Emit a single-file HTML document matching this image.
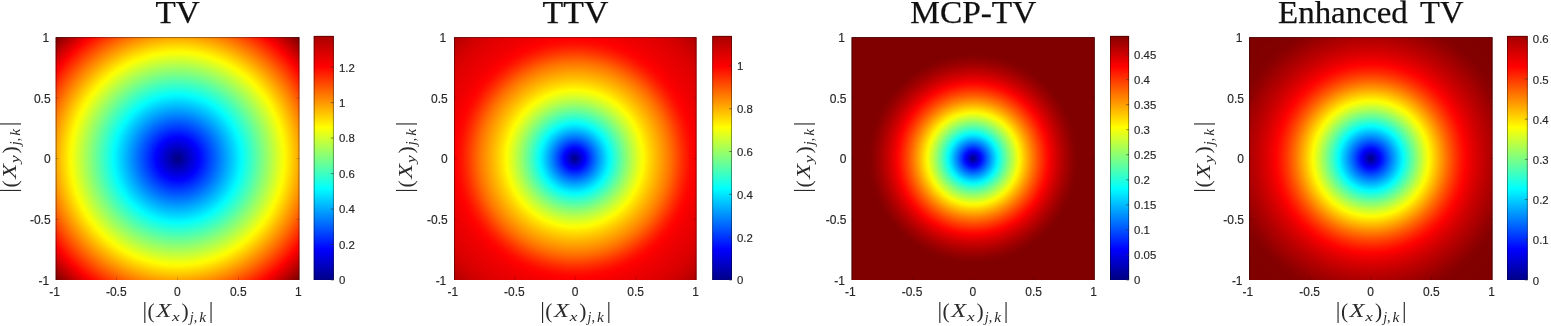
<!DOCTYPE html>
<html lang="en">
<head>
<meta charset="utf-8">
<title>TV regularizers</title>
<style>
html,body{margin:0;padding:0;background:#fff;}
body{width:1551px;height:326px;overflow:hidden;}
svg{display:block;}
.tk{font-family:"Liberation Sans",Arial,Helvetica,sans-serif;font-size:12px;fill:#262626;stroke:#262626;stroke-width:0.15px;}
.ti{font-family:"Liberation Serif","Times New Roman",serif;font-size:32.2px;fill:#111;stroke:#111;stroke-width:0.25px;}
.lb{font-family:"Liberation Serif","Times New Roman",serif;font-size:19.5px;fill:#2a2a2a;stroke:none;}
.it{font-style:italic;}
</style>
</head>
<body>
<svg width="1551" height="326" viewBox="0 0 1551 326">
<rect x="0" y="0" width="1551" height="326" fill="#ffffff"/>
<defs>
<linearGradient id="cb0" x1="0" y1="1" x2="0" y2="0"><stop offset="0" stop-color="#000087"/><stop offset="0.0156" stop-color="#000096"/><stop offset="0.0312" stop-color="#0000a5"/><stop offset="0.0469" stop-color="#0000b4"/><stop offset="0.0625" stop-color="#0000c3"/><stop offset="0.0781" stop-color="#0000d2"/><stop offset="0.0938" stop-color="#0000e1"/><stop offset="0.1094" stop-color="#0000f0"/><stop offset="0.125" stop-color="#0000ff"/><stop offset="0.1406" stop-color="#0010ff"/><stop offset="0.1562" stop-color="#0020ff"/><stop offset="0.1719" stop-color="#0030ff"/><stop offset="0.1875" stop-color="#0040ff"/><stop offset="0.2031" stop-color="#0050ff"/><stop offset="0.2188" stop-color="#0060ff"/><stop offset="0.2344" stop-color="#0070ff"/><stop offset="0.25" stop-color="#0080ff"/><stop offset="0.2656" stop-color="#008fff"/><stop offset="0.2812" stop-color="#009fff"/><stop offset="0.2969" stop-color="#00afff"/><stop offset="0.3125" stop-color="#00bfff"/><stop offset="0.3281" stop-color="#00cfff"/><stop offset="0.3438" stop-color="#00dfff"/><stop offset="0.3594" stop-color="#00efff"/><stop offset="0.375" stop-color="#00ffff"/><stop offset="0.3906" stop-color="#10ffef"/><stop offset="0.4062" stop-color="#20ffdf"/><stop offset="0.4219" stop-color="#30ffcf"/><stop offset="0.4375" stop-color="#40ffbf"/><stop offset="0.4531" stop-color="#50ffaf"/><stop offset="0.4688" stop-color="#60ff9f"/><stop offset="0.4844" stop-color="#70ff8f"/><stop offset="0.5" stop-color="#80ff80"/><stop offset="0.5156" stop-color="#8fff70"/><stop offset="0.5312" stop-color="#9fff60"/><stop offset="0.5469" stop-color="#afff50"/><stop offset="0.5625" stop-color="#bfff40"/><stop offset="0.5781" stop-color="#cfff30"/><stop offset="0.5938" stop-color="#dfff20"/><stop offset="0.6094" stop-color="#efff10"/><stop offset="0.625" stop-color="#ffff00"/><stop offset="0.6406" stop-color="#ffef00"/><stop offset="0.6562" stop-color="#ffdf00"/><stop offset="0.6719" stop-color="#ffcf00"/><stop offset="0.6875" stop-color="#ffbf00"/><stop offset="0.7031" stop-color="#ffaf00"/><stop offset="0.7188" stop-color="#ff9f00"/><stop offset="0.7344" stop-color="#ff8f00"/><stop offset="0.75" stop-color="#ff8000"/><stop offset="0.7656" stop-color="#ff7000"/><stop offset="0.7812" stop-color="#ff6000"/><stop offset="0.7969" stop-color="#ff5000"/><stop offset="0.8125" stop-color="#ff4000"/><stop offset="0.8281" stop-color="#ff3000"/><stop offset="0.8438" stop-color="#ff2000"/><stop offset="0.8594" stop-color="#ff1000"/><stop offset="0.875" stop-color="#ff0000"/><stop offset="0.8906" stop-color="#f40000"/><stop offset="0.9062" stop-color="#e90000"/><stop offset="0.9219" stop-color="#de0000"/><stop offset="0.9375" stop-color="#d40000"/><stop offset="0.9531" stop-color="#c90000"/><stop offset="0.9688" stop-color="#be0000"/><stop offset="0.9844" stop-color="#b30000"/><stop offset="1" stop-color="#a80000"/></linearGradient>
<linearGradient id="cb1" x1="0" y1="1" x2="0" y2="0"><stop offset="0" stop-color="#000087"/><stop offset="0.0156" stop-color="#000096"/><stop offset="0.0312" stop-color="#0000a5"/><stop offset="0.0469" stop-color="#0000b4"/><stop offset="0.0625" stop-color="#0000c3"/><stop offset="0.0781" stop-color="#0000d2"/><stop offset="0.0938" stop-color="#0000e1"/><stop offset="0.1094" stop-color="#0000f0"/><stop offset="0.125" stop-color="#0000ff"/><stop offset="0.1406" stop-color="#0010ff"/><stop offset="0.1562" stop-color="#0020ff"/><stop offset="0.1719" stop-color="#0030ff"/><stop offset="0.1875" stop-color="#0040ff"/><stop offset="0.2031" stop-color="#0050ff"/><stop offset="0.2188" stop-color="#0060ff"/><stop offset="0.2344" stop-color="#0070ff"/><stop offset="0.25" stop-color="#0080ff"/><stop offset="0.2656" stop-color="#008fff"/><stop offset="0.2812" stop-color="#009fff"/><stop offset="0.2969" stop-color="#00afff"/><stop offset="0.3125" stop-color="#00bfff"/><stop offset="0.3281" stop-color="#00cfff"/><stop offset="0.3438" stop-color="#00dfff"/><stop offset="0.3594" stop-color="#00efff"/><stop offset="0.375" stop-color="#00ffff"/><stop offset="0.3906" stop-color="#10ffef"/><stop offset="0.4062" stop-color="#20ffdf"/><stop offset="0.4219" stop-color="#30ffcf"/><stop offset="0.4375" stop-color="#40ffbf"/><stop offset="0.4531" stop-color="#50ffaf"/><stop offset="0.4688" stop-color="#60ff9f"/><stop offset="0.4844" stop-color="#70ff8f"/><stop offset="0.5" stop-color="#80ff80"/><stop offset="0.5156" stop-color="#8fff70"/><stop offset="0.5312" stop-color="#9fff60"/><stop offset="0.5469" stop-color="#afff50"/><stop offset="0.5625" stop-color="#bfff40"/><stop offset="0.5781" stop-color="#cfff30"/><stop offset="0.5938" stop-color="#dfff20"/><stop offset="0.6094" stop-color="#efff10"/><stop offset="0.625" stop-color="#ffff00"/><stop offset="0.6406" stop-color="#ffef00"/><stop offset="0.6562" stop-color="#ffdf00"/><stop offset="0.6719" stop-color="#ffcf00"/><stop offset="0.6875" stop-color="#ffbf00"/><stop offset="0.7031" stop-color="#ffaf00"/><stop offset="0.7188" stop-color="#ff9f00"/><stop offset="0.7344" stop-color="#ff8f00"/><stop offset="0.75" stop-color="#ff8000"/><stop offset="0.7656" stop-color="#ff7000"/><stop offset="0.7812" stop-color="#ff6000"/><stop offset="0.7969" stop-color="#ff5000"/><stop offset="0.8125" stop-color="#ff4000"/><stop offset="0.8281" stop-color="#ff3000"/><stop offset="0.8438" stop-color="#ff2000"/><stop offset="0.8594" stop-color="#ff1000"/><stop offset="0.875" stop-color="#ff0000"/><stop offset="0.8906" stop-color="#f40000"/><stop offset="0.9062" stop-color="#e90000"/><stop offset="0.9219" stop-color="#de0000"/><stop offset="0.9375" stop-color="#d40000"/><stop offset="0.9531" stop-color="#c90000"/><stop offset="0.9688" stop-color="#be0000"/><stop offset="0.9844" stop-color="#b30000"/><stop offset="1" stop-color="#a80000"/></linearGradient>
<linearGradient id="cb2" x1="0" y1="1" x2="0" y2="0"><stop offset="0" stop-color="#000080"/><stop offset="0.0156" stop-color="#00008f"/><stop offset="0.0312" stop-color="#00009f"/><stop offset="0.0469" stop-color="#0000af"/><stop offset="0.0625" stop-color="#0000bf"/><stop offset="0.0781" stop-color="#0000cf"/><stop offset="0.0938" stop-color="#0000df"/><stop offset="0.1094" stop-color="#0000ef"/><stop offset="0.125" stop-color="#0000ff"/><stop offset="0.1406" stop-color="#0010ff"/><stop offset="0.1562" stop-color="#0020ff"/><stop offset="0.1719" stop-color="#0030ff"/><stop offset="0.1875" stop-color="#0040ff"/><stop offset="0.2031" stop-color="#0050ff"/><stop offset="0.2188" stop-color="#0060ff"/><stop offset="0.2344" stop-color="#0070ff"/><stop offset="0.25" stop-color="#0080ff"/><stop offset="0.2656" stop-color="#008fff"/><stop offset="0.2812" stop-color="#009fff"/><stop offset="0.2969" stop-color="#00afff"/><stop offset="0.3125" stop-color="#00bfff"/><stop offset="0.3281" stop-color="#00cfff"/><stop offset="0.3438" stop-color="#00dfff"/><stop offset="0.3594" stop-color="#00efff"/><stop offset="0.375" stop-color="#00ffff"/><stop offset="0.3906" stop-color="#10ffef"/><stop offset="0.4062" stop-color="#20ffdf"/><stop offset="0.4219" stop-color="#30ffcf"/><stop offset="0.4375" stop-color="#40ffbf"/><stop offset="0.4531" stop-color="#50ffaf"/><stop offset="0.4688" stop-color="#60ff9f"/><stop offset="0.4844" stop-color="#70ff8f"/><stop offset="0.5" stop-color="#80ff80"/><stop offset="0.5156" stop-color="#8fff70"/><stop offset="0.5312" stop-color="#9fff60"/><stop offset="0.5469" stop-color="#afff50"/><stop offset="0.5625" stop-color="#bfff40"/><stop offset="0.5781" stop-color="#cfff30"/><stop offset="0.5938" stop-color="#dfff20"/><stop offset="0.6094" stop-color="#efff10"/><stop offset="0.625" stop-color="#ffff00"/><stop offset="0.6406" stop-color="#ffef00"/><stop offset="0.6562" stop-color="#ffdf00"/><stop offset="0.6719" stop-color="#ffcf00"/><stop offset="0.6875" stop-color="#ffbf00"/><stop offset="0.7031" stop-color="#ffaf00"/><stop offset="0.7188" stop-color="#ff9f00"/><stop offset="0.7344" stop-color="#ff8f00"/><stop offset="0.75" stop-color="#ff8000"/><stop offset="0.7656" stop-color="#ff7000"/><stop offset="0.7812" stop-color="#ff6000"/><stop offset="0.7969" stop-color="#ff5000"/><stop offset="0.8125" stop-color="#ff4000"/><stop offset="0.8281" stop-color="#ff3000"/><stop offset="0.8438" stop-color="#ff2000"/><stop offset="0.8594" stop-color="#ff1000"/><stop offset="0.875" stop-color="#ff0000"/><stop offset="0.8906" stop-color="#f00000"/><stop offset="0.9062" stop-color="#e00000"/><stop offset="0.9219" stop-color="#d10000"/><stop offset="0.9375" stop-color="#c20000"/><stop offset="0.9531" stop-color="#b20000"/><stop offset="0.9688" stop-color="#a30000"/><stop offset="0.9844" stop-color="#940000"/><stop offset="1" stop-color="#850000"/></linearGradient>
<linearGradient id="cb3" x1="0" y1="1" x2="0" y2="0"><stop offset="0" stop-color="#000087"/><stop offset="0.0156" stop-color="#000096"/><stop offset="0.0312" stop-color="#0000a5"/><stop offset="0.0469" stop-color="#0000b4"/><stop offset="0.0625" stop-color="#0000c3"/><stop offset="0.0781" stop-color="#0000d2"/><stop offset="0.0938" stop-color="#0000e1"/><stop offset="0.1094" stop-color="#0000f0"/><stop offset="0.125" stop-color="#0000ff"/><stop offset="0.1406" stop-color="#0010ff"/><stop offset="0.1562" stop-color="#0020ff"/><stop offset="0.1719" stop-color="#0030ff"/><stop offset="0.1875" stop-color="#0040ff"/><stop offset="0.2031" stop-color="#0050ff"/><stop offset="0.2188" stop-color="#0060ff"/><stop offset="0.2344" stop-color="#0070ff"/><stop offset="0.25" stop-color="#0080ff"/><stop offset="0.2656" stop-color="#008fff"/><stop offset="0.2812" stop-color="#009fff"/><stop offset="0.2969" stop-color="#00afff"/><stop offset="0.3125" stop-color="#00bfff"/><stop offset="0.3281" stop-color="#00cfff"/><stop offset="0.3438" stop-color="#00dfff"/><stop offset="0.3594" stop-color="#00efff"/><stop offset="0.375" stop-color="#00ffff"/><stop offset="0.3906" stop-color="#10ffef"/><stop offset="0.4062" stop-color="#20ffdf"/><stop offset="0.4219" stop-color="#30ffcf"/><stop offset="0.4375" stop-color="#40ffbf"/><stop offset="0.4531" stop-color="#50ffaf"/><stop offset="0.4688" stop-color="#60ff9f"/><stop offset="0.4844" stop-color="#70ff8f"/><stop offset="0.5" stop-color="#80ff80"/><stop offset="0.5156" stop-color="#8fff70"/><stop offset="0.5312" stop-color="#9fff60"/><stop offset="0.5469" stop-color="#afff50"/><stop offset="0.5625" stop-color="#bfff40"/><stop offset="0.5781" stop-color="#cfff30"/><stop offset="0.5938" stop-color="#dfff20"/><stop offset="0.6094" stop-color="#efff10"/><stop offset="0.625" stop-color="#ffff00"/><stop offset="0.6406" stop-color="#ffef00"/><stop offset="0.6562" stop-color="#ffdf00"/><stop offset="0.6719" stop-color="#ffcf00"/><stop offset="0.6875" stop-color="#ffbf00"/><stop offset="0.7031" stop-color="#ffaf00"/><stop offset="0.7188" stop-color="#ff9f00"/><stop offset="0.7344" stop-color="#ff8f00"/><stop offset="0.75" stop-color="#ff8000"/><stop offset="0.7656" stop-color="#ff7000"/><stop offset="0.7812" stop-color="#ff6000"/><stop offset="0.7969" stop-color="#ff5000"/><stop offset="0.8125" stop-color="#ff4000"/><stop offset="0.8281" stop-color="#ff3000"/><stop offset="0.8438" stop-color="#ff2000"/><stop offset="0.8594" stop-color="#ff1000"/><stop offset="0.875" stop-color="#ff0000"/><stop offset="0.8906" stop-color="#f40000"/><stop offset="0.9062" stop-color="#e80000"/><stop offset="0.9219" stop-color="#dd0000"/><stop offset="0.9375" stop-color="#d10000"/><stop offset="0.9531" stop-color="#c60000"/><stop offset="0.9688" stop-color="#ba0000"/><stop offset="0.9844" stop-color="#af0000"/><stop offset="1" stop-color="#a30000"/></linearGradient>
<radialGradient id="g0" gradientUnits="userSpaceOnUse" cx="177.55" cy="158.55" r="172.46" gradientTransform="translate(0 158.55) scale(1 0.99590) translate(0 -158.55)"><stop offset="0" stop-color="#000080"/><stop offset="0.0125" stop-color="#00008c"/><stop offset="0.025" stop-color="#000099"/><stop offset="0.0375" stop-color="#0000a6"/><stop offset="0.05" stop-color="#0000b3"/><stop offset="0.0625" stop-color="#0000c0"/><stop offset="0.075" stop-color="#0000cd"/><stop offset="0.0875" stop-color="#0000da"/><stop offset="0.1" stop-color="#0000e7"/><stop offset="0.1125" stop-color="#0000f3"/><stop offset="0.125" stop-color="#0001ff"/><stop offset="0.1375" stop-color="#000eff"/><stop offset="0.15" stop-color="#001bff"/><stop offset="0.1625" stop-color="#0028ff"/><stop offset="0.175" stop-color="#0035ff"/><stop offset="0.1875" stop-color="#0042ff"/><stop offset="0.2" stop-color="#004fff"/><stop offset="0.2125" stop-color="#005bff"/><stop offset="0.225" stop-color="#0068ff"/><stop offset="0.2375" stop-color="#0075ff"/><stop offset="0.25" stop-color="#0082ff"/><stop offset="0.2625" stop-color="#008fff"/><stop offset="0.275" stop-color="#009cff"/><stop offset="0.2875" stop-color="#00a9ff"/><stop offset="0.3" stop-color="#00b6ff"/><stop offset="0.3125" stop-color="#00c2ff"/><stop offset="0.325" stop-color="#00cfff"/><stop offset="0.3375" stop-color="#00dcff"/><stop offset="0.35" stop-color="#00e9ff"/><stop offset="0.3625" stop-color="#00f6ff"/><stop offset="0.375" stop-color="#04fffb"/><stop offset="0.3875" stop-color="#11ffee"/><stop offset="0.4" stop-color="#1effe1"/><stop offset="0.4125" stop-color="#2bffd4"/><stop offset="0.425" stop-color="#37ffc8"/><stop offset="0.4375" stop-color="#44ffbb"/><stop offset="0.45" stop-color="#51ffae"/><stop offset="0.4625" stop-color="#5effa1"/><stop offset="0.475" stop-color="#6bff94"/><stop offset="0.4875" stop-color="#78ff87"/><stop offset="0.5" stop-color="#85ff7a"/><stop offset="0.5125" stop-color="#92ff6d"/><stop offset="0.525" stop-color="#9eff61"/><stop offset="0.5375" stop-color="#abff54"/><stop offset="0.55" stop-color="#b8ff47"/><stop offset="0.5625" stop-color="#c5ff3a"/><stop offset="0.575" stop-color="#d2ff2d"/><stop offset="0.5875" stop-color="#dfff20"/><stop offset="0.6" stop-color="#ecff13"/><stop offset="0.6125" stop-color="#f9ff06"/><stop offset="0.625" stop-color="#fff900"/><stop offset="0.6375" stop-color="#ffec00"/><stop offset="0.65" stop-color="#ffdf00"/><stop offset="0.6625" stop-color="#ffd200"/><stop offset="0.675" stop-color="#ffc500"/><stop offset="0.6875" stop-color="#ffb800"/><stop offset="0.7" stop-color="#ffab00"/><stop offset="0.7125" stop-color="#ff9e00"/><stop offset="0.725" stop-color="#ff9100"/><stop offset="0.7375" stop-color="#ff8500"/><stop offset="0.75" stop-color="#ff7800"/><stop offset="0.7625" stop-color="#ff6b00"/><stop offset="0.775" stop-color="#ff5e00"/><stop offset="0.7875" stop-color="#ff5100"/><stop offset="0.8" stop-color="#ff4400"/><stop offset="0.8125" stop-color="#ff3700"/><stop offset="0.825" stop-color="#ff2a00"/><stop offset="0.8375" stop-color="#ff1e00"/><stop offset="0.85" stop-color="#ff1100"/><stop offset="0.8625" stop-color="#ff0400"/><stop offset="0.875" stop-color="#f60000"/><stop offset="0.8875" stop-color="#e90000"/><stop offset="0.9" stop-color="#dc0000"/><stop offset="0.9125" stop-color="#cf0000"/><stop offset="0.925" stop-color="#c20000"/><stop offset="0.9375" stop-color="#b60000"/><stop offset="0.95" stop-color="#a90000"/><stop offset="0.9625" stop-color="#9c0000"/><stop offset="0.975" stop-color="#8f0000"/><stop offset="0.9875" stop-color="#820000"/><stop offset="1" stop-color="#800000"/></radialGradient>
<radialGradient id="g1" gradientUnits="userSpaceOnUse" cx="574.7" cy="158.55" r="171.54" gradientTransform="translate(0 158.55) scale(1 1.00124) translate(0 -158.55)"><stop offset="0" stop-color="#000080"/><stop offset="0.0125" stop-color="#00009b"/><stop offset="0.025" stop-color="#0000b6"/><stop offset="0.0375" stop-color="#0000d0"/><stop offset="0.05" stop-color="#0000ea"/><stop offset="0.0625" stop-color="#0003ff"/><stop offset="0.075" stop-color="#001bff"/><stop offset="0.0875" stop-color="#0033ff"/><stop offset="0.1" stop-color="#004bff"/><stop offset="0.1125" stop-color="#0062ff"/><stop offset="0.125" stop-color="#0079ff"/><stop offset="0.1375" stop-color="#008fff"/><stop offset="0.15" stop-color="#00a5ff"/><stop offset="0.1625" stop-color="#00baff"/><stop offset="0.175" stop-color="#00cfff"/><stop offset="0.1875" stop-color="#00e4ff"/><stop offset="0.2" stop-color="#00f7ff"/><stop offset="0.2125" stop-color="#0bfff4"/><stop offset="0.225" stop-color="#1effe1"/><stop offset="0.2375" stop-color="#31ffce"/><stop offset="0.25" stop-color="#43ffbc"/><stop offset="0.2625" stop-color="#55ffaa"/><stop offset="0.275" stop-color="#67ff98"/><stop offset="0.2875" stop-color="#78ff87"/><stop offset="0.3" stop-color="#89ff76"/><stop offset="0.3125" stop-color="#9aff65"/><stop offset="0.325" stop-color="#aaff55"/><stop offset="0.3375" stop-color="#baff45"/><stop offset="0.35" stop-color="#c9ff36"/><stop offset="0.3625" stop-color="#d8ff27"/><stop offset="0.375" stop-color="#e6ff19"/><stop offset="0.3875" stop-color="#f4ff0b"/><stop offset="0.4" stop-color="#fffd00"/><stop offset="0.4125" stop-color="#fff000"/><stop offset="0.425" stop-color="#ffe400"/><stop offset="0.4375" stop-color="#ffd800"/><stop offset="0.45" stop-color="#ffcd00"/><stop offset="0.4625" stop-color="#ffc200"/><stop offset="0.475" stop-color="#ffb800"/><stop offset="0.4875" stop-color="#ffad00"/><stop offset="0.5" stop-color="#ffa300"/><stop offset="0.5125" stop-color="#ff9900"/><stop offset="0.525" stop-color="#ff8e00"/><stop offset="0.5375" stop-color="#ff8400"/><stop offset="0.55" stop-color="#ff7900"/><stop offset="0.5625" stop-color="#ff6e00"/><stop offset="0.575" stop-color="#ff6200"/><stop offset="0.5875" stop-color="#ff5500"/><stop offset="0.6" stop-color="#ff4900"/><stop offset="0.6125" stop-color="#ff3d00"/><stop offset="0.625" stop-color="#ff3100"/><stop offset="0.6375" stop-color="#ff2600"/><stop offset="0.65" stop-color="#ff1c00"/><stop offset="0.6625" stop-color="#ff1200"/><stop offset="0.675" stop-color="#ff0a00"/><stop offset="0.6875" stop-color="#ff0400"/><stop offset="0.7" stop-color="#fe0000"/><stop offset="0.7125" stop-color="#fa0000"/><stop offset="0.725" stop-color="#f60000"/><stop offset="0.7375" stop-color="#f30000"/><stop offset="0.75" stop-color="#f00000"/><stop offset="0.7625" stop-color="#ee0000"/><stop offset="0.775" stop-color="#eb0000"/><stop offset="0.7875" stop-color="#e90000"/><stop offset="0.8" stop-color="#e70000"/><stop offset="0.8125" stop-color="#e50000"/><stop offset="0.825" stop-color="#e30000"/><stop offset="0.8375" stop-color="#e10000"/><stop offset="0.85" stop-color="#de0000"/><stop offset="0.8625" stop-color="#db0000"/><stop offset="0.875" stop-color="#d80000"/><stop offset="0.8875" stop-color="#d50000"/><stop offset="0.9" stop-color="#d20000"/><stop offset="0.9125" stop-color="#ce0000"/><stop offset="0.925" stop-color="#ca0000"/><stop offset="0.9375" stop-color="#c60000"/><stop offset="0.95" stop-color="#c10000"/><stop offset="0.9625" stop-color="#bd0000"/><stop offset="0.975" stop-color="#b80000"/><stop offset="0.9875" stop-color="#b40000"/><stop offset="1" stop-color="#af0000"/></radialGradient>
<radialGradient id="g2" gradientUnits="userSpaceOnUse" cx="973.15" cy="158.55" r="172.04" gradientTransform="translate(0 158.55) scale(1 0.99836) translate(0 -158.55)"><stop offset="0" stop-color="#000080"/><stop offset="0.0125" stop-color="#0000a4"/><stop offset="0.025" stop-color="#0000c8"/><stop offset="0.0375" stop-color="#0000eb"/><stop offset="0.05" stop-color="#000eff"/><stop offset="0.0625" stop-color="#0030ff"/><stop offset="0.075" stop-color="#0052ff"/><stop offset="0.0875" stop-color="#0072ff"/><stop offset="0.1" stop-color="#0092ff"/><stop offset="0.1125" stop-color="#00b1ff"/><stop offset="0.125" stop-color="#00d0ff"/><stop offset="0.1375" stop-color="#00eeff"/><stop offset="0.15" stop-color="#0cfff3"/><stop offset="0.1625" stop-color="#29ffd6"/><stop offset="0.175" stop-color="#45ffba"/><stop offset="0.1875" stop-color="#60ff9f"/><stop offset="0.2" stop-color="#7bff84"/><stop offset="0.2125" stop-color="#95ff6a"/><stop offset="0.225" stop-color="#aeff51"/><stop offset="0.2375" stop-color="#c7ff38"/><stop offset="0.25" stop-color="#dfff20"/><stop offset="0.2625" stop-color="#f7ff08"/><stop offset="0.275" stop-color="#fff000"/><stop offset="0.2875" stop-color="#ffda00"/><stop offset="0.3" stop-color="#ffc500"/><stop offset="0.3125" stop-color="#ffb000"/><stop offset="0.325" stop-color="#ff9c00"/><stop offset="0.3375" stop-color="#ff8800"/><stop offset="0.35" stop-color="#ff7500"/><stop offset="0.3625" stop-color="#ff6300"/><stop offset="0.375" stop-color="#ff5100"/><stop offset="0.3875" stop-color="#ff4000"/><stop offset="0.4" stop-color="#ff3000"/><stop offset="0.4125" stop-color="#ff2000"/><stop offset="0.425" stop-color="#ff1100"/><stop offset="0.4375" stop-color="#ff0300"/><stop offset="0.45" stop-color="#f40000"/><stop offset="0.4625" stop-color="#e70000"/><stop offset="0.475" stop-color="#db0000"/><stop offset="0.4875" stop-color="#cf0000"/><stop offset="0.5" stop-color="#c40000"/><stop offset="0.5125" stop-color="#ba0000"/><stop offset="0.525" stop-color="#b00000"/><stop offset="0.5375" stop-color="#a70000"/><stop offset="0.55" stop-color="#9e0000"/><stop offset="0.5625" stop-color="#960000"/><stop offset="0.575" stop-color="#8f0000"/><stop offset="0.5875" stop-color="#880000"/><stop offset="0.6" stop-color="#830000"/><stop offset="0.6125" stop-color="#800000"/><stop offset="0.625" stop-color="#800000"/><stop offset="0.6375" stop-color="#800000"/><stop offset="0.65" stop-color="#800000"/><stop offset="0.6625" stop-color="#800000"/><stop offset="0.675" stop-color="#800000"/><stop offset="0.6875" stop-color="#800000"/><stop offset="0.7" stop-color="#800000"/><stop offset="0.7125" stop-color="#800000"/><stop offset="0.725" stop-color="#800000"/><stop offset="0.7375" stop-color="#800000"/><stop offset="0.75" stop-color="#800000"/><stop offset="0.7625" stop-color="#800000"/><stop offset="0.775" stop-color="#800000"/><stop offset="0.7875" stop-color="#800000"/><stop offset="0.8" stop-color="#800000"/><stop offset="0.8125" stop-color="#800000"/><stop offset="0.825" stop-color="#800000"/><stop offset="0.8375" stop-color="#800000"/><stop offset="0.85" stop-color="#800000"/><stop offset="0.8625" stop-color="#800000"/><stop offset="0.875" stop-color="#800000"/><stop offset="0.8875" stop-color="#800000"/><stop offset="0.9" stop-color="#800000"/><stop offset="0.9125" stop-color="#800000"/><stop offset="0.925" stop-color="#800000"/><stop offset="0.9375" stop-color="#800000"/><stop offset="0.95" stop-color="#800000"/><stop offset="0.9625" stop-color="#800000"/><stop offset="0.975" stop-color="#800000"/><stop offset="0.9875" stop-color="#800000"/><stop offset="1" stop-color="#800000"/></radialGradient>
<radialGradient id="g3" gradientUnits="userSpaceOnUse" cx="1370.82" cy="158.55" r="172.22" gradientTransform="translate(0 158.55) scale(1 0.99733) translate(0 -158.55)"><stop offset="0" stop-color="#000080"/><stop offset="0.0125" stop-color="#00009d"/><stop offset="0.025" stop-color="#0000ba"/><stop offset="0.0375" stop-color="#0000d7"/><stop offset="0.05" stop-color="#0000f2"/><stop offset="0.0625" stop-color="#000eff"/><stop offset="0.075" stop-color="#0028ff"/><stop offset="0.0875" stop-color="#0041ff"/><stop offset="0.1" stop-color="#005aff"/><stop offset="0.1125" stop-color="#0072ff"/><stop offset="0.125" stop-color="#008aff"/><stop offset="0.1375" stop-color="#00a2ff"/><stop offset="0.15" stop-color="#00b9ff"/><stop offset="0.1625" stop-color="#00d0ff"/><stop offset="0.175" stop-color="#00e7ff"/><stop offset="0.1875" stop-color="#00feff"/><stop offset="0.2" stop-color="#16ffe9"/><stop offset="0.2125" stop-color="#2dffd2"/><stop offset="0.225" stop-color="#44ffbb"/><stop offset="0.2375" stop-color="#5bffa4"/><stop offset="0.25" stop-color="#71ff8e"/><stop offset="0.2625" stop-color="#88ff77"/><stop offset="0.275" stop-color="#9dff62"/><stop offset="0.2875" stop-color="#b3ff4c"/><stop offset="0.3" stop-color="#c8ff37"/><stop offset="0.3125" stop-color="#dcff23"/><stop offset="0.325" stop-color="#efff10"/><stop offset="0.3375" stop-color="#fffd00"/><stop offset="0.35" stop-color="#ffeb00"/><stop offset="0.3625" stop-color="#ffda00"/><stop offset="0.375" stop-color="#ffc800"/><stop offset="0.3875" stop-color="#ffb700"/><stop offset="0.4" stop-color="#ffa600"/><stop offset="0.4125" stop-color="#ff9500"/><stop offset="0.425" stop-color="#ff8500"/><stop offset="0.4375" stop-color="#ff7400"/><stop offset="0.45" stop-color="#ff6500"/><stop offset="0.4625" stop-color="#ff5600"/><stop offset="0.475" stop-color="#ff4800"/><stop offset="0.4875" stop-color="#ff3a00"/><stop offset="0.5" stop-color="#ff2d00"/><stop offset="0.5125" stop-color="#ff2100"/><stop offset="0.525" stop-color="#ff1500"/><stop offset="0.5375" stop-color="#ff0b00"/><stop offset="0.55" stop-color="#ff0100"/><stop offset="0.5625" stop-color="#f70000"/><stop offset="0.575" stop-color="#ef0000"/><stop offset="0.5875" stop-color="#e70000"/><stop offset="0.6" stop-color="#e00000"/><stop offset="0.6125" stop-color="#d90000"/><stop offset="0.625" stop-color="#d20000"/><stop offset="0.6375" stop-color="#cc0000"/><stop offset="0.65" stop-color="#c60000"/><stop offset="0.6625" stop-color="#c00000"/><stop offset="0.675" stop-color="#ba0000"/><stop offset="0.6875" stop-color="#b50000"/><stop offset="0.7" stop-color="#b00000"/><stop offset="0.7125" stop-color="#ab0000"/><stop offset="0.725" stop-color="#a60000"/><stop offset="0.7375" stop-color="#a10000"/><stop offset="0.75" stop-color="#9c0000"/><stop offset="0.7625" stop-color="#970000"/><stop offset="0.775" stop-color="#920000"/><stop offset="0.7875" stop-color="#8e0000"/><stop offset="0.8" stop-color="#8a0000"/><stop offset="0.8125" stop-color="#860000"/><stop offset="0.825" stop-color="#840000"/><stop offset="0.8375" stop-color="#820000"/><stop offset="0.85" stop-color="#820000"/><stop offset="0.8625" stop-color="#810000"/><stop offset="0.875" stop-color="#810000"/><stop offset="0.8875" stop-color="#810000"/><stop offset="0.9" stop-color="#800000"/><stop offset="0.9125" stop-color="#800000"/><stop offset="0.925" stop-color="#800000"/><stop offset="0.9375" stop-color="#800000"/><stop offset="0.95" stop-color="#800000"/><stop offset="0.9625" stop-color="#800000"/><stop offset="0.975" stop-color="#800000"/><stop offset="0.9875" stop-color="#800000"/><stop offset="1" stop-color="#800000"/></radialGradient>
</defs>
<g id="panel0">
<text class="ti" y="22.55"><tspan x="155.5" textLength="44.2" lengthAdjust="spacingAndGlyphs">TV</tspan></text>
<rect x="55.6" y="37.1" width="243.9" height="242.9" fill="url(#g0)"/>
<path d="M56.1 280V37.6H299V280" fill="none" stroke="#000" stroke-opacity="0.4" stroke-width="1"/>
<path d="M116.58 280v-3.2 M55.6 219.28h3.2 M299.5 219.28h-3.2 M177.55 280v-3.2 M55.6 158.55h3.2 M299.5 158.55h-3.2 M238.53 280v-3.2 M55.6 97.82h3.2 M299.5 97.82h-3.2" fill="none" stroke="#000" stroke-opacity="0.22" stroke-width="0.8"/>
<text class="tk" x="54.5" y="296.4" text-anchor="middle">-1</text>
<text class="tk" x="116.28" y="296.4" text-anchor="middle">-0.5</text>
<text class="tk" x="177.25" y="296.4" text-anchor="middle">0</text>
<text class="tk" x="238.22" y="296.4" text-anchor="middle">0.5</text>
<text class="tk" x="298.4" y="296.4" text-anchor="middle">1</text>
<text class="tk" x="49.1" y="284.7" text-anchor="end">-1</text>
<text class="tk" x="50.6" y="223.97" text-anchor="end">-0.5</text>
<text class="tk" x="50.6" y="163.25" text-anchor="end">0</text>
<text class="tk" x="50.6" y="102.52" text-anchor="end">0.5</text>
<text class="tk" x="49.1" y="41.8" text-anchor="end">1</text>
<g transform="translate(143.2 317.3)"><text class="lb" text-anchor="middle" style="font-size:23px" transform="translate(1.5 0.3)">|</text><text class="lb" text-anchor="middle" style="font-size:21.5px" transform="translate(8 0.6)">(</text><text class="lb it" text-anchor="middle" style="font-size:18px" transform="translate(20.6 0) scale(1.36 1)">X</text><text class="lb it" text-anchor="middle" style="font-size:11.5px" transform="translate(32.6 3.4) scale(1.5 1)">x</text><text class="lb" text-anchor="middle" style="font-size:21.5px" transform="translate(42 0.6)">)</text><text class="lb it" text-anchor="middle" style="font-size:14px" transform="translate(48.6 4.3)">j</text><text class="lb" text-anchor="middle" style="font-size:14px" transform="translate(52.3 4.3)">,</text><text class="lb it" text-anchor="middle" style="font-size:14px" transform="translate(59.5 4.3) scale(1.1 1)">k</text><text class="lb" text-anchor="middle" style="font-size:23px" transform="translate(67.9 0.3)">|</text></g>
<g transform="translate(16 191.9) rotate(-90)"><text class="lb" text-anchor="middle" style="font-size:23px" transform="translate(1.5 0.3)">|</text><text class="lb" text-anchor="middle" style="font-size:21.5px" transform="translate(8 0.6)">(</text><text class="lb it" text-anchor="middle" style="font-size:18px" transform="translate(20.6 0) scale(1.36 1)">X</text><text class="lb it" text-anchor="middle" style="font-size:11.5px" transform="translate(32.6 3.4) scale(1.5 1)">y</text><text class="lb" text-anchor="middle" style="font-size:21.5px" transform="translate(42 0.6)">)</text><text class="lb it" text-anchor="middle" style="font-size:14px" transform="translate(48.6 4.3)">j</text><text class="lb" text-anchor="middle" style="font-size:14px" transform="translate(52.3 4.3)">,</text><text class="lb it" text-anchor="middle" style="font-size:14px" transform="translate(59.5 4.3) scale(1.1 1)">k</text><text class="lb" text-anchor="middle" style="font-size:23px" transform="translate(67.9 0.3)">|</text></g>
<rect x="313.7" y="35.9" width="20.2" height="244.1" fill="url(#cb0)"/>
<path d="M314.2 280V36.4H333.4V280" fill="none" stroke="#000" stroke-opacity="0.4" stroke-width="1"/>
<line x1="330.9" y1="280" x2="333.9" y2="280" stroke="#333" stroke-opacity="0.7" stroke-width="0.8"/><text class="tk" style="font-size:11.4px" x="338.9" y="284.4">0</text>
<line x1="330.9" y1="244.52" x2="333.9" y2="244.52" stroke="#333" stroke-opacity="0.7" stroke-width="0.8"/><text class="tk" style="font-size:11.4px" x="338.9" y="248.92">0.2</text>
<line x1="330.9" y1="209.04" x2="333.9" y2="209.04" stroke="#333" stroke-opacity="0.7" stroke-width="0.8"/><text class="tk" style="font-size:11.4px" x="338.9" y="213.44">0.4</text>
<line x1="330.9" y1="173.56" x2="333.9" y2="173.56" stroke="#333" stroke-opacity="0.7" stroke-width="0.8"/><text class="tk" style="font-size:11.4px" x="338.9" y="177.96">0.6</text>
<line x1="330.9" y1="138.08" x2="333.9" y2="138.08" stroke="#333" stroke-opacity="0.7" stroke-width="0.8"/><text class="tk" style="font-size:11.4px" x="338.9" y="142.48">0.8</text>
<line x1="330.9" y1="102.6" x2="333.9" y2="102.6" stroke="#333" stroke-opacity="0.7" stroke-width="0.8"/><text class="tk" style="font-size:11.4px" x="338.9" y="107">1</text>
<line x1="330.9" y1="67.12" x2="333.9" y2="67.12" stroke="#333" stroke-opacity="0.7" stroke-width="0.8"/><text class="tk" style="font-size:11.4px" x="338.9" y="71.52">1.2</text>
</g>
<g id="panel1">
<text class="ti" y="22.55"><tspan x="542.6" textLength="65.7" lengthAdjust="spacingAndGlyphs">TTV</tspan></text>
<rect x="454" y="37.1" width="242.6" height="242.9" fill="url(#g1)"/>
<path d="M454.5 280V37.6H696.1V280" fill="none" stroke="#000" stroke-opacity="0.4" stroke-width="1"/>
<path d="M514.65 280v-3.2 M454 219.28h3.2 M696.6 219.28h-3.2 M575.3 280v-3.2 M454 158.55h3.2 M696.6 158.55h-3.2 M635.95 280v-3.2 M454 97.82h3.2 M696.6 97.82h-3.2" fill="none" stroke="#000" stroke-opacity="0.22" stroke-width="0.8"/>
<text class="tk" x="452.9" y="296.4" text-anchor="middle">-1</text>
<text class="tk" x="514.35" y="296.4" text-anchor="middle">-0.5</text>
<text class="tk" x="575" y="296.4" text-anchor="middle">0</text>
<text class="tk" x="635.65" y="296.4" text-anchor="middle">0.5</text>
<text class="tk" x="695.5" y="296.4" text-anchor="middle">1</text>
<text class="tk" x="446.3" y="284.7" text-anchor="end">-1</text>
<text class="tk" x="447.8" y="223.97" text-anchor="end">-0.5</text>
<text class="tk" x="447.8" y="163.25" text-anchor="end">0</text>
<text class="tk" x="447.8" y="102.52" text-anchor="end">0.5</text>
<text class="tk" x="446.3" y="41.8" text-anchor="end">1</text>
<g transform="translate(540.95 317.3)"><text class="lb" text-anchor="middle" style="font-size:23px" transform="translate(1.5 0.3)">|</text><text class="lb" text-anchor="middle" style="font-size:21.5px" transform="translate(8 0.6)">(</text><text class="lb it" text-anchor="middle" style="font-size:18px" transform="translate(20.6 0) scale(1.36 1)">X</text><text class="lb it" text-anchor="middle" style="font-size:11.5px" transform="translate(32.6 3.4) scale(1.5 1)">x</text><text class="lb" text-anchor="middle" style="font-size:21.5px" transform="translate(42 0.6)">)</text><text class="lb it" text-anchor="middle" style="font-size:14px" transform="translate(48.6 4.3)">j</text><text class="lb" text-anchor="middle" style="font-size:14px" transform="translate(52.3 4.3)">,</text><text class="lb it" text-anchor="middle" style="font-size:14px" transform="translate(59.5 4.3) scale(1.1 1)">k</text><text class="lb" text-anchor="middle" style="font-size:23px" transform="translate(67.9 0.3)">|</text></g>
<g transform="translate(411.9 191.9) rotate(-90)"><text class="lb" text-anchor="middle" style="font-size:23px" transform="translate(1.5 0.3)">|</text><text class="lb" text-anchor="middle" style="font-size:21.5px" transform="translate(8 0.6)">(</text><text class="lb it" text-anchor="middle" style="font-size:18px" transform="translate(20.6 0) scale(1.36 1)">X</text><text class="lb it" text-anchor="middle" style="font-size:11.5px" transform="translate(32.6 3.4) scale(1.5 1)">y</text><text class="lb" text-anchor="middle" style="font-size:21.5px" transform="translate(42 0.6)">)</text><text class="lb it" text-anchor="middle" style="font-size:14px" transform="translate(48.6 4.3)">j</text><text class="lb" text-anchor="middle" style="font-size:14px" transform="translate(52.3 4.3)">,</text><text class="lb it" text-anchor="middle" style="font-size:14px" transform="translate(59.5 4.3) scale(1.1 1)">k</text><text class="lb" text-anchor="middle" style="font-size:23px" transform="translate(67.9 0.3)">|</text></g>
<rect x="712.2" y="35.9" width="19.8" height="244.1" fill="url(#cb1)"/>
<path d="M712.7 280V36.4H731.5V280" fill="none" stroke="#000" stroke-opacity="0.4" stroke-width="1"/>
<line x1="729" y1="280" x2="732" y2="280" stroke="#333" stroke-opacity="0.7" stroke-width="0.8"/><text class="tk" style="font-size:11.4px" x="737" y="284.4">0</text>
<line x1="729" y1="237.18" x2="732" y2="237.18" stroke="#333" stroke-opacity="0.7" stroke-width="0.8"/><text class="tk" style="font-size:11.4px" x="737" y="241.58">0.2</text>
<line x1="729" y1="194.35" x2="732" y2="194.35" stroke="#333" stroke-opacity="0.7" stroke-width="0.8"/><text class="tk" style="font-size:11.4px" x="737" y="198.75">0.4</text>
<line x1="729" y1="151.53" x2="732" y2="151.53" stroke="#333" stroke-opacity="0.7" stroke-width="0.8"/><text class="tk" style="font-size:11.4px" x="737" y="155.93">0.6</text>
<line x1="729" y1="108.7" x2="732" y2="108.7" stroke="#333" stroke-opacity="0.7" stroke-width="0.8"/><text class="tk" style="font-size:11.4px" x="737" y="113.1">0.8</text>
<line x1="729" y1="65.88" x2="732" y2="65.88" stroke="#333" stroke-opacity="0.7" stroke-width="0.8"/><text class="tk" style="font-size:11.4px" x="737" y="70.28">1</text>
</g>
<g id="panel2">
<text class="ti" y="22.55"><tspan x="910.3" textLength="126" lengthAdjust="spacingAndGlyphs">MCP-TV</tspan></text>
<rect x="851.5" y="37.1" width="243.3" height="242.9" fill="url(#g2)"/>
<path d="M852 280V37.6H1094.3V280" fill="none" stroke="#000" stroke-opacity="0.4" stroke-width="1"/>
<path d="M912.33 280v-3.2 M851.5 219.28h3.2 M1094.8 219.28h-3.2 M973.15 280v-3.2 M851.5 158.55h3.2 M1094.8 158.55h-3.2 M1033.97 280v-3.2 M851.5 97.82h3.2 M1094.8 97.82h-3.2" fill="none" stroke="#000" stroke-opacity="0.22" stroke-width="0.8"/>
<text class="tk" x="850.4" y="296.4" text-anchor="middle">-1</text>
<text class="tk" x="912.03" y="296.4" text-anchor="middle">-0.5</text>
<text class="tk" x="972.85" y="296.4" text-anchor="middle">0</text>
<text class="tk" x="1033.67" y="296.4" text-anchor="middle">0.5</text>
<text class="tk" x="1093.7" y="296.4" text-anchor="middle">1</text>
<text class="tk" x="845" y="284.7" text-anchor="end">-1</text>
<text class="tk" x="846.5" y="223.97" text-anchor="end">-0.5</text>
<text class="tk" x="846.5" y="163.25" text-anchor="end">0</text>
<text class="tk" x="846.5" y="102.52" text-anchor="end">0.5</text>
<text class="tk" x="845" y="41.8" text-anchor="end">1</text>
<g transform="translate(938.2 317.3)"><text class="lb" text-anchor="middle" style="font-size:23px" transform="translate(1.5 0.3)">|</text><text class="lb" text-anchor="middle" style="font-size:21.5px" transform="translate(8 0.6)">(</text><text class="lb it" text-anchor="middle" style="font-size:18px" transform="translate(20.6 0) scale(1.36 1)">X</text><text class="lb it" text-anchor="middle" style="font-size:11.5px" transform="translate(32.6 3.4) scale(1.5 1)">x</text><text class="lb" text-anchor="middle" style="font-size:21.5px" transform="translate(42 0.6)">)</text><text class="lb it" text-anchor="middle" style="font-size:14px" transform="translate(48.6 4.3)">j</text><text class="lb" text-anchor="middle" style="font-size:14px" transform="translate(52.3 4.3)">,</text><text class="lb it" text-anchor="middle" style="font-size:14px" transform="translate(59.5 4.3) scale(1.1 1)">k</text><text class="lb" text-anchor="middle" style="font-size:23px" transform="translate(67.9 0.3)">|</text></g>
<g transform="translate(809.9 191.9) rotate(-90)"><text class="lb" text-anchor="middle" style="font-size:23px" transform="translate(1.5 0.3)">|</text><text class="lb" text-anchor="middle" style="font-size:21.5px" transform="translate(8 0.6)">(</text><text class="lb it" text-anchor="middle" style="font-size:18px" transform="translate(20.6 0) scale(1.36 1)">X</text><text class="lb it" text-anchor="middle" style="font-size:11.5px" transform="translate(32.6 3.4) scale(1.5 1)">y</text><text class="lb" text-anchor="middle" style="font-size:21.5px" transform="translate(42 0.6)">)</text><text class="lb it" text-anchor="middle" style="font-size:14px" transform="translate(48.6 4.3)">j</text><text class="lb" text-anchor="middle" style="font-size:14px" transform="translate(52.3 4.3)">,</text><text class="lb it" text-anchor="middle" style="font-size:14px" transform="translate(59.5 4.3) scale(1.1 1)">k</text><text class="lb" text-anchor="middle" style="font-size:23px" transform="translate(67.9 0.3)">|</text></g>
<rect x="1110" y="35.9" width="19.1" height="244.1" fill="url(#cb2)"/>
<path d="M1110.5 280V36.4H1128.6V280" fill="none" stroke="#000" stroke-opacity="0.4" stroke-width="1"/>
<line x1="1126.1" y1="280" x2="1129.1" y2="280" stroke="#333" stroke-opacity="0.7" stroke-width="0.8"/><text class="tk" style="font-size:11.4px" x="1134.1" y="284.4">0</text>
<line x1="1126.1" y1="254.96" x2="1129.1" y2="254.96" stroke="#333" stroke-opacity="0.7" stroke-width="0.8"/><text class="tk" style="font-size:11.4px" x="1134.1" y="259.36">0.05</text>
<line x1="1126.1" y1="229.92" x2="1129.1" y2="229.92" stroke="#333" stroke-opacity="0.7" stroke-width="0.8"/><text class="tk" style="font-size:11.4px" x="1134.1" y="234.32">0.1</text>
<line x1="1126.1" y1="204.88" x2="1129.1" y2="204.88" stroke="#333" stroke-opacity="0.7" stroke-width="0.8"/><text class="tk" style="font-size:11.4px" x="1134.1" y="209.28">0.15</text>
<line x1="1126.1" y1="179.84" x2="1129.1" y2="179.84" stroke="#333" stroke-opacity="0.7" stroke-width="0.8"/><text class="tk" style="font-size:11.4px" x="1134.1" y="184.24">0.2</text>
<line x1="1126.1" y1="154.79" x2="1129.1" y2="154.79" stroke="#333" stroke-opacity="0.7" stroke-width="0.8"/><text class="tk" style="font-size:11.4px" x="1134.1" y="159.19">0.25</text>
<line x1="1126.1" y1="129.75" x2="1129.1" y2="129.75" stroke="#333" stroke-opacity="0.7" stroke-width="0.8"/><text class="tk" style="font-size:11.4px" x="1134.1" y="134.15">0.3</text>
<line x1="1126.1" y1="104.71" x2="1129.1" y2="104.71" stroke="#333" stroke-opacity="0.7" stroke-width="0.8"/><text class="tk" style="font-size:11.4px" x="1134.1" y="109.11">0.35</text>
<line x1="1126.1" y1="79.67" x2="1129.1" y2="79.67" stroke="#333" stroke-opacity="0.7" stroke-width="0.8"/><text class="tk" style="font-size:11.4px" x="1134.1" y="84.07">0.4</text>
<line x1="1126.1" y1="54.63" x2="1129.1" y2="54.63" stroke="#333" stroke-opacity="0.7" stroke-width="0.8"/><text class="tk" style="font-size:11.4px" x="1134.1" y="59.03">0.45</text>
</g>
<g id="panel3">
<text class="ti" y="22.55"><tspan x="1278.1" textLength="129.7" lengthAdjust="spacingAndGlyphs">Enhanced</tspan> <tspan x="1420" textLength="43.4" lengthAdjust="spacingAndGlyphs">TV</tspan></text>
<rect x="1249.05" y="37.1" width="243.55" height="242.9" fill="url(#g3)"/>
<path d="M1249.55 280V37.6H1492.1V280" fill="none" stroke="#000" stroke-opacity="0.4" stroke-width="1"/>
<path d="M1309.94 280v-3.2 M1249.05 219.28h3.2 M1492.6 219.28h-3.2 M1370.82 280v-3.2 M1249.05 158.55h3.2 M1492.6 158.55h-3.2 M1431.71 280v-3.2 M1249.05 97.82h3.2 M1492.6 97.82h-3.2" fill="none" stroke="#000" stroke-opacity="0.22" stroke-width="0.8"/>
<text class="tk" x="1247.95" y="296.4" text-anchor="middle">-1</text>
<text class="tk" x="1309.64" y="296.4" text-anchor="middle">-0.5</text>
<text class="tk" x="1370.52" y="296.4" text-anchor="middle">0</text>
<text class="tk" x="1431.41" y="296.4" text-anchor="middle">0.5</text>
<text class="tk" x="1491.5" y="296.4" text-anchor="middle">1</text>
<text class="tk" x="1242.55" y="284.7" text-anchor="end">-1</text>
<text class="tk" x="1244.05" y="223.97" text-anchor="end">-0.5</text>
<text class="tk" x="1244.05" y="163.25" text-anchor="end">0</text>
<text class="tk" x="1244.05" y="102.52" text-anchor="end">0.5</text>
<text class="tk" x="1242.55" y="41.8" text-anchor="end">1</text>
<g transform="translate(1336.47 317.3)"><text class="lb" text-anchor="middle" style="font-size:23px" transform="translate(1.5 0.3)">|</text><text class="lb" text-anchor="middle" style="font-size:21.5px" transform="translate(8 0.6)">(</text><text class="lb it" text-anchor="middle" style="font-size:18px" transform="translate(20.6 0) scale(1.36 1)">X</text><text class="lb it" text-anchor="middle" style="font-size:11.5px" transform="translate(32.6 3.4) scale(1.5 1)">x</text><text class="lb" text-anchor="middle" style="font-size:21.5px" transform="translate(42 0.6)">)</text><text class="lb it" text-anchor="middle" style="font-size:14px" transform="translate(48.6 4.3)">j</text><text class="lb" text-anchor="middle" style="font-size:14px" transform="translate(52.3 4.3)">,</text><text class="lb it" text-anchor="middle" style="font-size:14px" transform="translate(59.5 4.3) scale(1.1 1)">k</text><text class="lb" text-anchor="middle" style="font-size:23px" transform="translate(67.9 0.3)">|</text></g>
<g transform="translate(1209.65 191.9) rotate(-90)"><text class="lb" text-anchor="middle" style="font-size:23px" transform="translate(1.5 0.3)">|</text><text class="lb" text-anchor="middle" style="font-size:21.5px" transform="translate(8 0.6)">(</text><text class="lb it" text-anchor="middle" style="font-size:18px" transform="translate(20.6 0) scale(1.36 1)">X</text><text class="lb it" text-anchor="middle" style="font-size:11.5px" transform="translate(32.6 3.4) scale(1.5 1)">y</text><text class="lb" text-anchor="middle" style="font-size:21.5px" transform="translate(42 0.6)">)</text><text class="lb it" text-anchor="middle" style="font-size:14px" transform="translate(48.6 4.3)">j</text><text class="lb" text-anchor="middle" style="font-size:14px" transform="translate(52.3 4.3)">,</text><text class="lb it" text-anchor="middle" style="font-size:14px" transform="translate(59.5 4.3) scale(1.1 1)">k</text><text class="lb" text-anchor="middle" style="font-size:23px" transform="translate(67.9 0.3)">|</text></g>
<rect x="1507" y="35.9" width="20.8" height="244.1" fill="url(#cb3)"/>
<path d="M1507.5 280V36.4H1527.3V280" fill="none" stroke="#000" stroke-opacity="0.4" stroke-width="1"/>
<line x1="1524.8" y1="280" x2="1527.8" y2="280" stroke="#333" stroke-opacity="0.7" stroke-width="0.8"/><text class="tk" style="font-size:11.4px" x="1532.8" y="284.7">0</text>
<line x1="1524.8" y1="239.79" x2="1527.8" y2="239.79" stroke="#333" stroke-opacity="0.7" stroke-width="0.8"/><text class="tk" style="font-size:11.4px" x="1532.8" y="244.49">0.1</text>
<line x1="1524.8" y1="199.57" x2="1527.8" y2="199.57" stroke="#333" stroke-opacity="0.7" stroke-width="0.8"/><text class="tk" style="font-size:11.4px" x="1532.8" y="204.27">0.2</text>
<line x1="1524.8" y1="159.36" x2="1527.8" y2="159.36" stroke="#333" stroke-opacity="0.7" stroke-width="0.8"/><text class="tk" style="font-size:11.4px" x="1532.8" y="164.06">0.3</text>
<line x1="1524.8" y1="119.14" x2="1527.8" y2="119.14" stroke="#333" stroke-opacity="0.7" stroke-width="0.8"/><text class="tk" style="font-size:11.4px" x="1532.8" y="123.84">0.4</text>
<line x1="1524.8" y1="78.93" x2="1527.8" y2="78.93" stroke="#333" stroke-opacity="0.7" stroke-width="0.8"/><text class="tk" style="font-size:11.4px" x="1532.8" y="83.63">0.5</text>
<line x1="1524.8" y1="38.71" x2="1527.8" y2="38.71" stroke="#333" stroke-opacity="0.7" stroke-width="0.8"/><text class="tk" style="font-size:11.4px" x="1532.8" y="43.41">0.6</text>
</g>
</svg>
</body>
</html>
